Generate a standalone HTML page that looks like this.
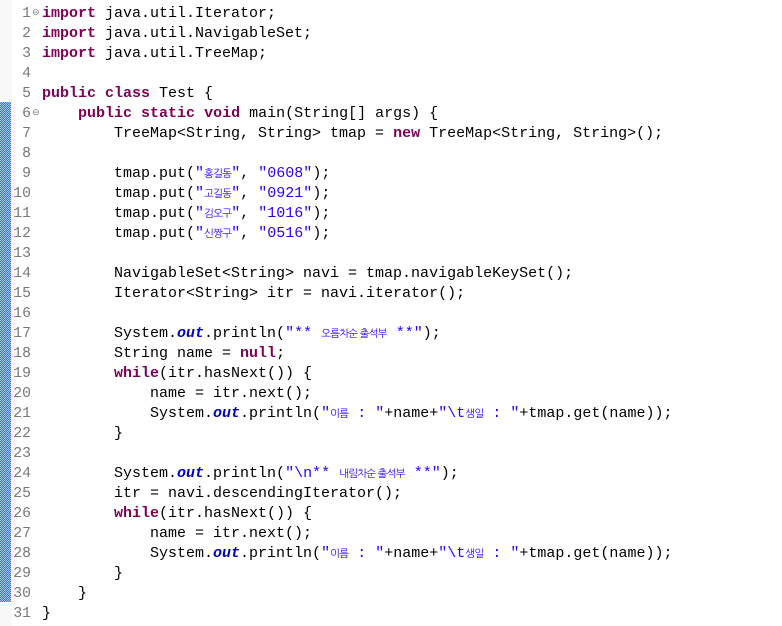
<!DOCTYPE html>
<html><head><meta charset="utf-8"><style>
body{margin:0;width:782px;height:626px;background:#fff;overflow:hidden;position:relative}
#g{position:absolute;left:0;top:0;width:12px;height:626px;background:#f8f8f8}
#bar{position:absolute;left:0;top:102px;width:11px;height:500px;background-color:#a9c8ee;background-image:linear-gradient(45deg,#2f78d8 25%,transparent 25%,transparent 75%,#2f78d8 75%),linear-gradient(45deg,#2f78d8 25%,transparent 25%,transparent 75%,#2f78d8 75%);background-size:2px 2px;background-position:0 0,1px 1px}
pre{margin:0;position:absolute;top:4px;font-family:"Liberation Mono",monospace;font-size:15px;line-height:20px;color:#000}
#n{left:12px;width:19px;text-align:right;color:#787878;font-size:14.75px}
#c{left:42px}
.k{color:#7f0055;font-weight:bold}
.s{color:#2a00ff}
.o{color:#0000c0;font-weight:bold;font-style:italic}
.h{font-family:"NanumGothic","Noto Sans CJK KR",sans-serif;font-size:10.5px;letter-spacing:-0.8px}
.f{position:absolute;font-size:9px;color:#777;left:32px}
</style></head><body>
<div id="g"></div><div id="bar"></div>
<div class="f" style="top:7px">⊖</div><div class="f" style="top:107px">⊖</div>
<pre id="n">1
2
3
4
5
6
7
8
9
10
11
12
13
14
15
16
17
18
19
20
21
22
23
24
25
26
27
28
29
30
31</pre>
<pre id="c"><span class="k">import</span> java.util.Iterator;
<span class="k">import</span> java.util.NavigableSet;
<span class="k">import</span> java.util.TreeMap;

<span class="k">public</span> <span class="k">class</span> Test {
    <span class="k">public</span> <span class="k">static</span> <span class="k">void</span> main(String[] args) {
        TreeMap&lt;String, String&gt; tmap = <span class="k">new</span> TreeMap&lt;String, String&gt;();

        tmap.put(<span class="s">"<span class="h">홍길동</span>"</span>, <span class="s">"0608"</span>);
        tmap.put(<span class="s">"<span class="h">고길동</span>"</span>, <span class="s">"0921"</span>);
        tmap.put(<span class="s">"<span class="h">김오구</span>"</span>, <span class="s">"1016"</span>);
        tmap.put(<span class="s">"<span class="h">신짱구</span>"</span>, <span class="s">"0516"</span>);

        NavigableSet&lt;String&gt; navi = tmap.navigableKeySet();
        Iterator&lt;String&gt; itr = navi.iterator();

        System.<span class="o">out</span>.println(<span class="s">"** <span class="h">오름차순 출석부</span> **"</span>);
        String name = <span class="k">null</span>;
        <span class="k">while</span>(itr.hasNext()) {
            name = itr.next();
            System.<span class="o">out</span>.println(<span class="s">"<span class="h">이름</span> : "</span>+name+<span class="s">"\t<span class="h">생일</span> : "</span>+tmap.get(name));
        }

        System.<span class="o">out</span>.println(<span class="s">"\n** <span class="h">내림차순 출석부</span> **"</span>);
        itr = navi.descendingIterator();
        <span class="k">while</span>(itr.hasNext()) {
            name = itr.next();
            System.<span class="o">out</span>.println(<span class="s">"<span class="h">이름</span> : "</span>+name+<span class="s">"\t<span class="h">생일</span> : "</span>+tmap.get(name));
        }
    }
}</pre>
</body></html>
